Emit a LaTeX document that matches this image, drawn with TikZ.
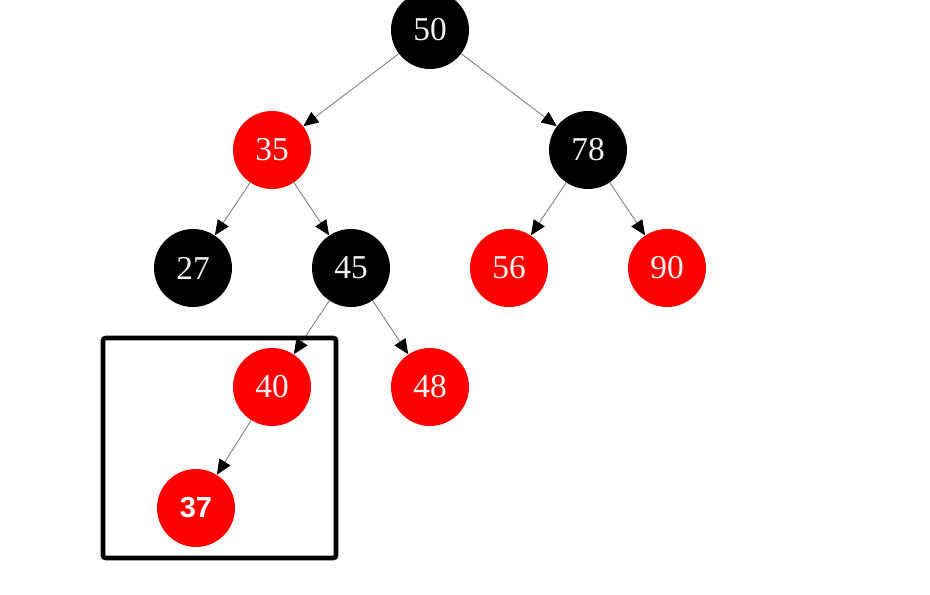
\documentclass[tikz,border=0pt]{standalone}
\usepackage{fontspec}
\setmainfont{Liberation Serif}
\newfontfamily\boldsans{Liberation Sans}
\usepackage{tikz}
\usetikzlibrary{arrows.meta,positioning,calc}

\begin{document}
\begin{tikzpicture}[
    x=0.02cm, y=-0.02cm,
    rbnode/.style={circle, minimum size=1.56cm, inner sep=0pt, text=black!5, font=\fontsize{19}{22}\selectfont},
    rednode/.style={rbnode, fill=red},
    blacknode/.style={rbnode, fill=black},
    arrow/.style={-{Triangle[length=0.3cm,width=0.26cm,color=black]}, draw=gray, line width=0.5pt}
]
\useasboundingbox (0,0) rectangle (930,595);

% tree nodes
\node[blacknode] (n50) at (430,30) {50};
\node[rednode]   (n35) at (272,150) {35};
\node[blacknode] (n78) at (588,150) {78};
\node[blacknode] (n27) at (193,268) {27};
\node[blacknode] (n45) at (351,268) {45};
\node[rednode]   (n56) at (509,268) {56};
\node[rednode]   (n90) at (667,268) {90};
\node[rednode]   (n40) at (272,387) {40};
\node[rednode]   (n48) at (430,387) {48};
\node[rednode, text=white, font=\boldsans\bfseries\fontsize{16.5}{19}\selectfont] (n37) at (196,508) {37};

% edges
\draw[arrow] (n50) -- (n35);
\draw[arrow] (n50) -- (n78);
\draw[arrow] (n35) -- (n27);
\draw[arrow] (n35) -- (n45);
\draw[arrow] (n78) -- (n56);
\draw[arrow] (n78) -- (n90);
\draw[arrow] (n45) -- (n40);
\draw[arrow] (n45) -- (n48);
\draw[arrow] (n40) -- (n37);

% frame round the new subtree
\draw[line width=2.6pt, rounded corners=1.5pt] (103,338) rectangle (336,558);
\end{tikzpicture}
\end{document}
